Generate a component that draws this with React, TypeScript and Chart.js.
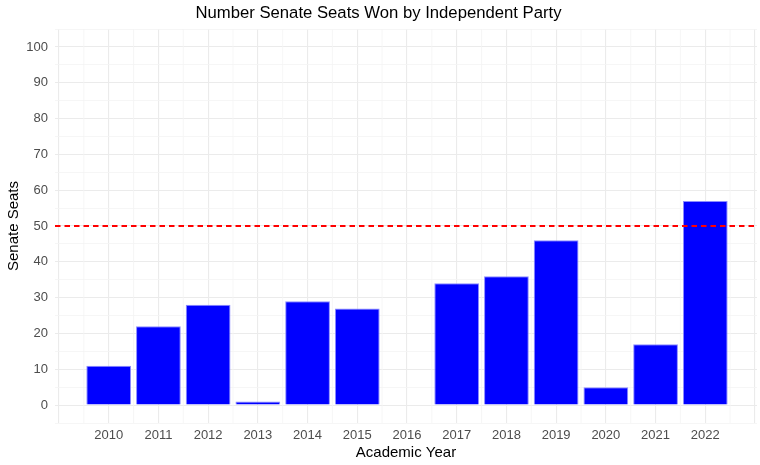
import React, { useEffect, useRef } from 'react';
import { Chart, registerables } from 'chart.js';

Chart.register(...registerables);

// --- data ---
const years = [2010, 2011, 2012, 2013, 2014, 2015, 2016, 2017, 2018, 2019, 2020, 2021, 2022];
const seats = [11, 22, 28, 1, 29, 27, 0, 34, 36, 46, 5, 17, 57];
const yTickLabels = [0, 10, 20, 30, 40, 50, 60, 70, 80, 90, 100];
const majorityLine = 50;

const FONT = '"Liberation Sans", Arial, Helvetica, sans-serif';
const MAJOR = '#ebebeb';
const MINOR = '#f4f4f4';

// minor x gridlines between the years + dashed reference line
const extrasPlugin = {
  id: 'extras',
  beforeDatasetsDraw(chart: any) {
    const { ctx, chartArea, scales } = chart;
    const x = scales.x;
    ctx.save();
    ctx.strokeStyle = MINOR;
    ctx.lineWidth = 0.8;
    x.ticks.forEach((t: any) => {
      const v = t.value + 0.5;
      if (v > x.max) return;
      const px = x.getPixelForValue(v);
      ctx.beginPath();
      ctx.moveTo(px, chartArea.top);
      ctx.lineTo(px, chartArea.bottom);
      ctx.stroke();
    });
    ctx.restore();
  },
  afterDatasetsDraw(chart: any) {
    const { ctx, chartArea, scales } = chart;
    const py = scales.y.getPixelForValue(majorityLine);
    ctx.save();
    ctx.strokeStyle = '#ff0000';
    ctx.lineWidth = 1.8;
    ctx.setLineDash([5.5, 4]);
    ctx.beginPath();
    ctx.moveTo(chartArea.left, py);
    ctx.lineTo(chartArea.right, py);
    ctx.stroke();
    ctx.restore();
  },
};

export default function App() {
  const canvasRef = useRef<HTMLCanvasElement>(null);

  useEffect(() => {
    document.body.style.margin = '0';
    const ctx = canvasRef.current?.getContext('2d');
    if (!ctx) return;

    const xTicks = [years[0] - 1, ...years, years[years.length - 1] + 1];

    const chart = new Chart(ctx, {
      type: 'bar',
      data: {
        datasets: [
          {
            data: years.map((y, i) => ({ x: y, y: seats[i] })),
            backgroundColor: '#0000ff',
            borderColor: '#8c8cff',
            borderWidth: 1,
            barPercentage: 0.9,
            categoryPercentage: 1,
          },
        ],
      },
      options: {
        animation: false,
        responsive: true,
        maintainAspectRatio: false,
        layout: { padding: { left: 0, right: 3, top: 0, bottom: 0 } },
        plugins: {
          legend: { display: false },
          tooltip: { enabled: false },
          title: {
            display: true,
            text: 'Number Senate Seats Won by Independent Party',
            color: '#000000',
            font: { family: FONT, size: 16.7, weight: 'normal' },
            padding: { top: 3, bottom: 6 },
          },
        },
        scales: {
          x: {
            type: 'linear',
            offset: false,
            min: 2008.92,
            max: 2023.04,
            afterBuildTicks: (scale: any) => {
              scale.ticks = xTicks.map((v) => ({ value: v }));
            },
            afterFit: (scale: any) => {
              scale.height = 42;
            },
            border: { display: false },
            grid: { offset: false, color: MAJOR, lineWidth: 1.1, drawTicks: false },
            ticks: {
              autoSkip: false,
              maxRotation: 0,
              padding: 5,
              color: '#4d4d4d',
              font: { family: FONT, size: 13 },
              callback: (v: any) => (years.includes(v) ? String(v) : ''),
            },
            title: {
              display: true,
              text: 'Academic Year',
              color: '#000000',
              font: { family: FONT, size: 15 },
              padding: { top: 0, bottom: 3.5 },
            },
          },
          y: {
            type: 'linear',
            min: -5,
            max: 105,
            afterFit: (scale: any) => {
              scale.width = 55;
            },
            border: { display: false },
            grid: {
              drawTicks: false,
              color: (c: any) => (yTickLabels.includes(c.tick.value) ? MAJOR : MINOR),
              lineWidth: (c: any) => (yTickLabels.includes(c.tick.value) ? 1.1 : 0.8),
            },
            ticks: {
              stepSize: 5,
              autoSkip: false,
              padding: 7,
              color: '#4d4d4d',
              font: { family: FONT, size: 13 },
              callback: (v: any) => (yTickLabels.includes(v) ? String(v) : ''),
            },
            title: {
              display: true,
              text: 'Senate Seats',
              color: '#000000',
              font: { family: FONT, size: 15 },
              padding: { top: 5, bottom: 0 },
            },
          },
        },
      },
      plugins: [extrasPlugin],
    });

    return () => {
      chart.destroy();
    };
  }, []);

  return (
    <div style={{ width: 760, height: 465, position: 'relative', background: '#ffffff' }}>
      <canvas ref={canvasRef}></canvas>
    </div>
  );
}
